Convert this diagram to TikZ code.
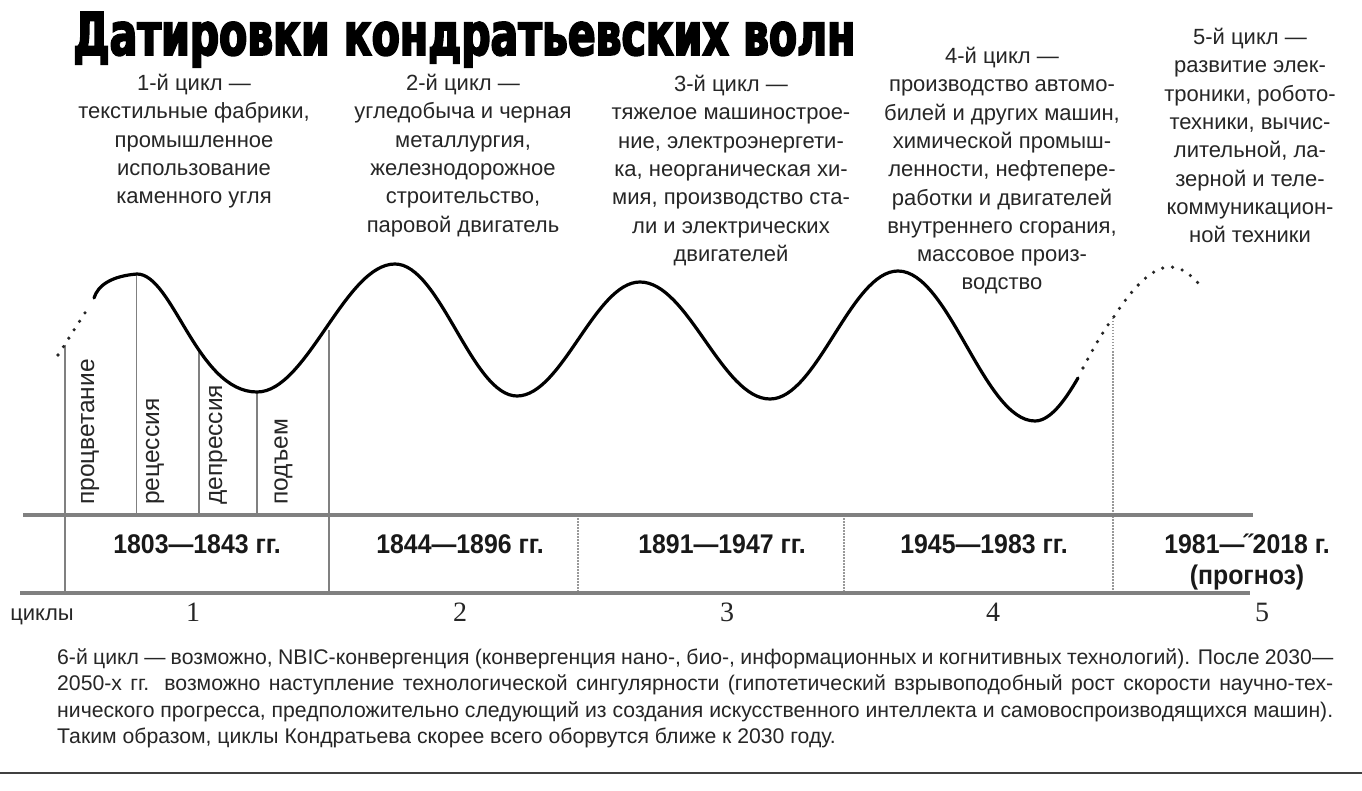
\documentclass[tikz,border=0pt]{standalone}
\usepackage{fontspec}
\setmainfont{Liberation Sans}
\newfontfamily\titlefam[FakeStretch=0.68, FakeBold=3]{DejaVu Sans Bold}
\newfontfamily\descfam{Liberation Sans}
\newfontfamily\datefam[FakeStretch=0.92]{Liberation Sans}
\newfontfamily\numfam{Liberation Serif}
\newcommand\descfont{\descfam\fontsize{22}{28.3}\selectfont}
\newcommand\phasefont{\descfam\fontsize{24.5}{28}\selectfont}
\newcommand\datefont{\datefam\bfseries\fontsize{27}{30}\selectfont}
\newcommand\numfont{\numfam\fontsize{28}{32}\selectfont}
\newcommand\cycfont{\descfam\fontsize{22}{26}\selectfont}
\newcommand\parfont{\descfam\fontsize{21.2}{26}\selectfont}
\tikzset{
  wave/.style={line width=3.2pt, black, line cap=round},
  wavedots/.style={line width=3.6pt, black!85, line cap=round, dash pattern=on 0pt off 10pt},
  axisline/.style={line width=3.5pt, black!50},
  divider/.style={line width=1.8pt, black!50},
  dotdiv/.style={line width=1.8pt, black!40, dash pattern=on 1.5pt off 1.5pt},
  desc/.style={font=\descfont, align=center, inner sep=0pt, anchor=north, text=black!85},
  phase/.style={font=\phasefont, rotate=90, anchor=base west, inner sep=0pt, text=black!85},
  datelbl/.style={font=\datefont, inner sep=0pt, anchor=base, text=black!90},
  numlbl/.style={font=\numfont, inner sep=0pt, anchor=base, text=black!85},
  parline/.style={font=\parfont, inner sep=0pt, anchor=base west, text=black!85},
}
\begin{document}
\begin{tikzpicture}[x=1pt,y=-1pt]
\useasboundingbox[fill=white] (0,0) rectangle (1362,791);

% title
\node[inner sep=0pt, anchor=base west] (title) at (73,55)
  {\resizebox{782pt}{43pt}{\titlefam\fontsize{59}{60}\selectfont Датировки кондратьевских волн}};

% cycle descriptions
\node[desc] (c1) at (194,74) {1-й цикл —\\текстильные фабрики,\\промышленное\\использование\\каменного угля};
\node[desc] (c2) at (463,74) {2-й цикл —\\угледобыча и черная\\металлургия,\\железнодорожное\\строительство,\\паровой двигатель};
\node[desc] (c3) at (731,75) {3-й цикл —\\тяжелое машинострое-\\ние, электроэнергети-\\ка, неорганическая хи-\\мия, производство ста-\\ли и электрических\\двигателей};
\node[desc] (c4) at (1002,47) {4-й цикл —\\производство автомо-\\билей и других машин,\\химической промыш-\\ленности, нефтепере-\\работки и двигателей\\внутреннего сгорания,\\массовое произ-\\водство};
\node[desc] (c5) at (1250,28) {5-й цикл —\\развитие элек-\\троники, робото-\\техники, вычис-\\лительной, ла-\\зерной и теле-\\коммуникацион-\\ной техники};

% axes
\coordinate (upL) at (23,515);
\coordinate (upR) at (1253,515);
\coordinate (loL) at (20,593);
\coordinate (loR) at (1250,593);

% vertical dividers
\coordinate (v0t) at (65,345);   \coordinate (v0b) at (65,593);
\coordinate (v1t) at (136.5,274); \coordinate (v1b) at (136.5,515);
\coordinate (v2t) at (199,350);  \coordinate (v2b) at (199,515);
\coordinate (v3t) at (257,392);  \coordinate (v3b) at (257,515);
\coordinate (v4t) at (329,330);  \coordinate (v4b) at (329,593);
\coordinate (d1t) at (578,515);  \coordinate (d1b) at (578,593);
\coordinate (d2t) at (844,515);  \coordinate (d2b) at (844,593);
\coordinate (d3t) at (1113,318); \coordinate (d3b) at (1113,593);

\draw[divider] (v0t) -- (v0b);
\draw[divider] (v1t) -- (v1b);
\draw[divider] (v2t) -- (v2b);
\draw[divider] (v3t) -- (v3b);
\draw[divider] (v4t) -- (v4b);
\draw[dotdiv] (d1t) -- (d1b);
\draw[dotdiv] (d2t) -- (d2b);
\draw[dotdiv] (d3t) -- (d3b);

\draw[axisline] (upL) -- (upR);
\draw[axisline] (loL) -- (loR);

% wave
\draw[wavedots] (58,355) .. controls (68,340) and (80,320) .. (89,307);
\draw[wave] (94,298) .. controls (98,285) and (112,276) .. (137,274)
  .. controls (173,274) and (197,392) .. (257,392)
  .. controls (307,392) and (345,264) .. (395,264)
  .. controls (440,264) and (472,396) .. (517,396)
  .. controls (562,396) and (595,282) .. (640,282)
  .. controls (688,282) and (722,399) .. (770,399)
  .. controls (817,399) and (851,271) .. (898,271)
  .. controls (949,271) and (984,421) .. (1035,421)
  .. controls (1052,421) and (1068,395) .. (1078,378);
\draw[wavedots] (1083,368) .. controls (1095,345) and (1104,330) .. (1113,318)
  .. controls (1130,292) and (1150,267) .. (1170,267)
  .. controls (1182,267) and (1192,276) .. (1198,283);

% phase labels
\node[phase] (ph1) at (94,505) {процветание};
\node[phase] (ph2) at (159,505) {рецессия};
\node[phase] (ph3) at (222,505) {депрессия};
\node[phase] (ph4) at (287.5,505) {подъем};

% dates
\node[datelbl] (y1) at (197,553) {1803—1843 гг.};
\node[datelbl] (y2) at (460,553) {1844—1896 гг.};
\node[datelbl] (y3) at (722,553) {1891—1947 гг.};
\node[datelbl] (y4) at (984,553) {1945—1983 гг.};
\node[datelbl] (y5) at (1247,553) {1981—˝2018 г.};
\node[datelbl] (y5b) at (1247,584) {(прогноз)};

% cycle numbers
\node[font=\cycfont, inner sep=0pt, anchor=base, text=black!85] (cyc) at (42,620) {циклы};
\node[numlbl] (n1) at (193,621) {1};
\node[numlbl] (n2) at (460,621) {2};
\node[numlbl] (n3) at (727,621) {3};
\node[numlbl] (n4) at (993,621) {4};
\node[numlbl] (n5) at (1262,621) {5};

% bottom paragraph
\node[parline] (p1) at (57,664) {\makebox[1276pt][s]{6-й цикл — возможно, NBIC-конвергенция (конвергенция нано-, био-, информационных и когнитивных технологий). После 2030—}};
\node[parline] (p2) at (57,690.5) {\makebox[1276pt][s]{2050-х гг. возможно наступление технологической сингулярности (гипотетический взрывоподобный рост скорости научно-тех-}};
\node[parline] (p3) at (57,717) {\makebox[1276pt][s]{нического прогресса, предположительно следующий из создания искусственного интеллекта и самовоспроизводящихся машин).}};
\node[parline] (p4) at (57,743.5) {Таким образом, циклы Кондратьева скорее всего оборвутся ближе к 2030 году.};

\coordinate (ruleL) at (0,773);
\coordinate (ruleR) at (1362,773);
\draw[line width=1.5pt, black!75] (ruleL) -- (ruleR);
\end{tikzpicture}
\end{document}
